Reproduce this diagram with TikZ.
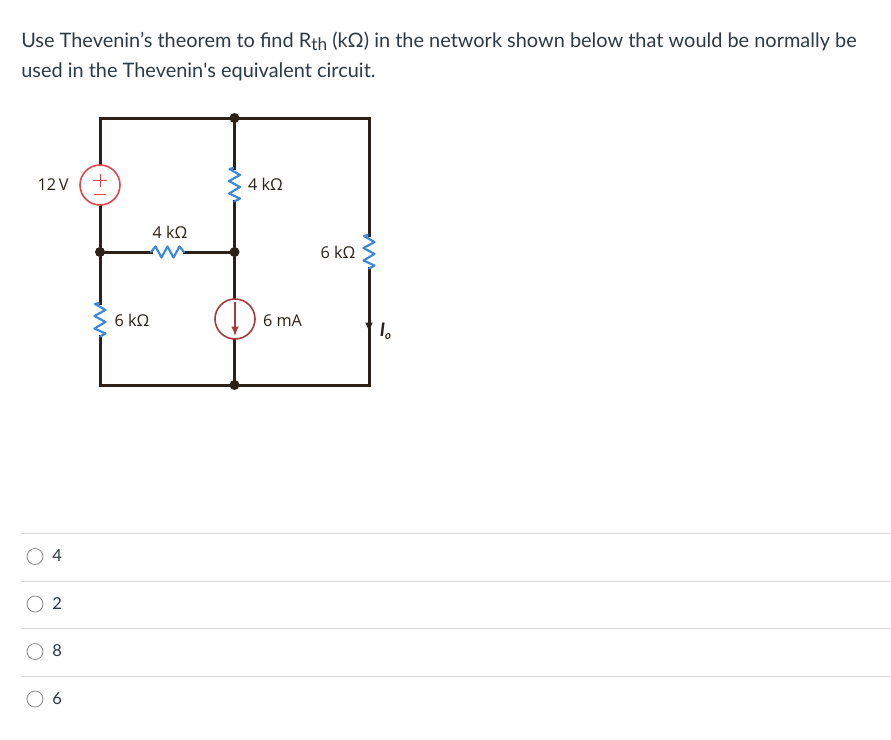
\documentclass[tikz,border=0pt]{standalone}
\usepackage{fontspec}
\setmainfont{Lato}
\newfontfamily\plainquote{Lato}
\newfontfamily\cktfont{Open Sans}
\usetikzlibrary{arrows.meta}
\definecolor{wirec}{HTML}{2B2118}
\definecolor{resc}{HTML}{3A87DC}
\definecolor{volc}{HTML}{E0474C}
\definecolor{curc}{HTML}{A83A3C}
\definecolor{txtc}{HTML}{2D3B45}
\definecolor{rulec}{HTML}{D9D9D9}
\definecolor{radioc}{HTML}{8A8A8A}
\tikzset{
  x=0.75pt,y=-0.75pt,
  wire/.style={draw=wirec,line width=2.25pt,line cap=rect},
  zig/.style={draw=resc,line width=1.6pt,line join=round,line cap=round},
  junction/.style={circle,fill=wirec,inner sep=0pt,minimum size=7.5pt},
  srcv/.style={circle,draw=volc,fill=white,line width=1.2pt,inner sep=0pt,minimum size=30pt},
  srci/.style={circle,draw=curc,fill=white,line width=1.2pt,inner sep=0pt,minimum size=30pt},
  prose/.style={anchor=base west,inner sep=0pt,text=txtc,font=\fontsize{14.95pt}{18pt}\selectfont},
  cktlabel/.style={inner sep=0pt,text=wirec,font=\cktfont\fontsize{12.2pt}{14pt}\selectfont},
  choice/.style={anchor=base west,inner sep=0pt,text=txtc,font=\fontsize{12.4pt}{15pt}\selectfont},
  radio/.style={circle,draw=radioc,line width=0.6pt,inner sep=0pt,minimum size=12pt},
  rulel/.style={draw=rulec,line width=0.75pt},
  pics/vres/.style={code={\draw[zig] (-1,0) -- (-5,1) -- (5.5,7) -- (-5.5,13) -- (5.5,19) -- (-5.5,25.5) -- (5.5,30.5) -- (0,33.5);}},
  pics/hres/.style={code={\draw[zig] (0,0) -- (4.5,-5.5) -- (10.5,5.5) -- (16.5,-5.5) -- (22.5,5.5) -- (28.5,-5.5) -- (33,0);}}
}
\begin{document}
\begin{tikzpicture}
\useasboundingbox[fill=white] (0,0) rectangle (891,739);
% prose
\node[prose] (q1) at (21,47) {Use Thevenin’s theorem to find R\raisebox{-2.5pt}{\fontsize{13pt}{15pt}\selectfont th} (kΩ) in the network shown below that would be normally be};
\node[prose] (q2) at (21,77) {used in the Thevenin{\plainquote '}s equivalent circuit.};
% grid points
\coordinate (tl) at (100,118);
\coordinate (tr) at (369,118);
\coordinate (bl) at (100,385);
\coordinate (br) at (369,385);
\node[junction] (jt) at (234.5,118) {};
\node[junction] (jl) at (100,252) {};
\node[junction] (jm) at (234.5,252) {};
\node[junction] (jb) at (234.5,385) {};
\coordinate (r1t) at (234.5,168);
\coordinate (r1b) at (234.5,201);
\coordinate (r2l) at (151,252);
\coordinate (r2r) at (184,252);
\coordinate (r3t) at (100,303);
\coordinate (r3b) at (100,336);
\coordinate (r4t) at (369,235);
\coordinate (r4b) at (369,268);
% wires
\draw[wire] (tl) -- (jt) -- (tr) -- (r4t);
\draw[wire] (r4b) -- (br) -- (jb) -- (bl) -- (r3b);
\draw[wire] (r3t) -- (jl) -- (tl);
\draw[wire] (jt) -- (r1t);
\draw[wire] (r1b) -- (jm) -- (jb);
\draw[wire] (jl) -- (r2l);
\draw[wire] (r2r) -- (jm);
% resistors
\pic at (r1t) {vres};
\pic at (r2l) {hres};
\pic at (r3t) {vres};
\pic at (r4t) {vres};
% sources
\node[srcv] (vs) at (100,185) {};
\draw[volc,line width=0.7pt] (93,180) -- (107,180) (100,173.5) -- (100,186.5) (94,194) -- (106,194);
\node[srci] (is) at (235,319) {};
\coordinate (ist) at (235,302);
\coordinate (isb) at (235,336);
\draw[curc,line width=0.9pt,-{Latex[length=7pt,width=5.5pt]}] (ist) -- (isb);
% Io arrow
\coordinate (iot) at (369,321);
\coordinate (iob) at (369,332);
\draw[wirec,line width=0.5pt,-{Latex[length=7pt,width=5.5pt]}] (iot) -- (iob);
% labels
\node[cktlabel] (l12) at (53,184.5) {12\,V};
\node[cktlabel] (l4a) at (265.5,184.5) {4 kΩ};
\node[cktlabel] (l4b) at (170,232.5) {4 kΩ};
\node[cktlabel] (l6a) at (132,320) {6 kΩ};
\node[cktlabel] (l6b) at (338,252.5) {6 kΩ};
\node[cktlabel] (l6m) at (282.5,321) {6 mA};
\node[inner sep=0pt,text=wirec,font=\fontsize{14pt}{16pt}\selectfont] (io) at (385.5,331) {\textit{\textbf{I}}\raisebox{-2.5pt}{\fontsize{8.5pt}{9pt}\selectfont\textit{\textbf{o}}}};
% choices
\draw[rulel] (21,533) -- (891,533);
\draw[rulel] (21,581) -- (891,581);
\draw[rulel] (21,628) -- (891,628);
\draw[rulel] (21,676) -- (891,676);
\node[radio] (o1) at (35,556.5) {};
\node[radio] (o2) at (35,604) {};
\node[radio] (o3) at (35,651.5) {};
\node[radio] (o4) at (35,699) {};
\node[choice] (c1) at (52,561) {4};
\node[choice] (c2) at (52,609) {2};
\node[choice] (c3) at (52,656) {8};
\node[choice] (c4) at (52,704) {6};
\end{tikzpicture}
\end{document}
